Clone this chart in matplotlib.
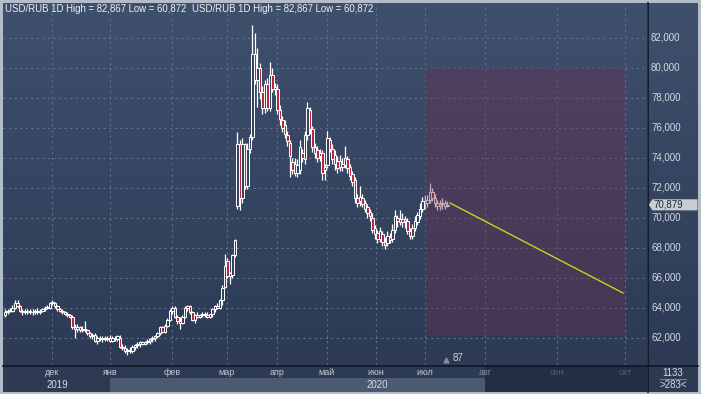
import matplotlib
matplotlib.use('Agg')
import matplotlib.pyplot as plt
import numpy as np
from matplotlib.patches import Rectangle, Polygon
from matplotlib.lines import Line2D

# ---------------- data (USD/RUB daily candles) ----------------
opens = [63.5, 63.7, 63.8, 63.8, 64.0, 64.3, 64.1, 63.8, 63.7, 63.7,
         63.8, 63.7, 63.7, 63.8, 63.7, 63.8, 63.9, 64.0, 64.0, 64.4,
         64.3, 64.1, 63.9, 63.8, 63.7, 63.6, 63.5, 63.4, 62.7, 62.6,
         62.7, 62.5, 62.6, 62.5, 62.3, 62.1, 62.2, 61.8, 62.0, 61.9,
         62.0, 61.9, 62.0,
         61.8, 62.0, 61.9, 62.0, 61.4, 61.3, 61.1, 61.2, 61.1, 61.4,
         61.5, 61.6, 61.7, 61.6, 61.7, 61.8, 61.9, 62.0, 62.1, 62.3,
         62.7, 62.4, 62.8, 63.2, 63.8,
         64.0, 63.4, 63.1, 63.0, 63.4, 64.0, 64.1, 63.7, 63.2, 63.5,
         63.4, 63.5, 63.6, 63.5, 63.4, 63.6, 63.9, 64.1, 64.0, 64.5,
         65.4, 67.1, 66.1, 66.2, 67.5,
         70.8, 74.9, 71.3, 74.9, 72.1, 74.6, 75.4, 80.9, 79.2, 80.0,
         78.4, 77.3, 78.9, 77.3, 79.5, 78.6,
         78.6, 77.2, 76.5, 76.2, 75.5, 75.0, 73.7, 73.6, 73.0, 73.2,
         74.3, 73.9, 75.5, 77.2, 75.9, 74.7, 74.5, 74.3, 74.3, 73.2,
         73.5, 75.2, 74.6, 74.2, 73.8, 73.4, 73.6, 73.5, 73.9, 73.4,
         72.9, 72.5, 71.3, 71.1, 71.3, 71.0, 70.7, 70.4, 70.0, 69.3,
         69.0, 68.6, 68.9, 68.4, 68.3, 68.7, 68.6, 69.2, 70.0, 69.7,
         69.9, 69.8, 69.8, 69.1, 68.8, 69.3, 69.7, 70.1, 70.6, 71.1,
         71.0, 71.2, 71.7, 71.3, 71.0, 70.8, 70.9, 71.0, 70.8]
highs = [63.9, 63.9, 64.0, 64.2, 64.5, 64.5, 64.2, 63.9, 63.9, 63.9,
         63.9, 63.9, 63.9, 64.0, 63.9, 64.0, 64.1, 64.2, 64.4, 64.5,
         64.4, 64.2, 64.0, 63.9, 63.8, 63.7, 63.6, 63.5, 62.9, 62.9,
         62.8, 62.8, 63.1, 62.6, 62.4, 62.3, 62.3, 62.1, 62.1, 62.1,
         62.1, 62.1, 62.2,
         62.1, 62.1, 62.2, 62.2, 61.6, 61.5, 61.3, 61.4, 61.5, 61.6,
         61.7, 61.8, 61.8, 61.8, 61.9, 62.0, 62.1, 62.2, 62.4, 62.8,
         62.8, 62.9, 63.3, 63.9, 64.1,
         64.1, 63.5, 63.4, 63.5, 64.1, 64.2, 64.2, 63.8, 63.6, 63.7,
         63.6, 63.7, 63.7, 63.7, 63.6, 64.0, 64.2, 64.3, 64.6, 65.5,
         67.6, 67.3, 66.4, 67.6, 68.6,
         75.7, 75.2, 75.3, 75.0, 75.0, 75.6, 82.867, 82.3, 81.3, 80.3,
         78.8, 79.2, 79.3, 80.4, 80.0, 79.0,
         78.9, 77.5, 76.8, 76.5, 75.8, 75.2, 74.0, 74.0, 73.9, 75.2,
         74.6, 75.8, 77.7, 77.4, 76.1, 75.0, 74.8, 74.6, 74.5, 73.6,
         75.8, 75.4, 74.9, 74.5, 74.1, 74.2, 74.0, 74.8, 74.1, 73.6,
         73.1, 72.7, 71.6, 72.1, 71.6, 71.2, 70.9, 70.6, 70.3, 69.5,
         69.2, 69.4, 69.1, 68.7, 69.1, 69.0, 69.6, 70.5, 70.2, 70.5,
         70.3, 70.1, 70.0, 69.3, 69.6, 70.1, 70.4, 71.0, 71.4, 71.5,
         71.5, 72.3, 72.0, 71.6, 71.2, 71.2, 71.3, 71.2, 71.1]
lows = [63.4, 63.6, 63.7, 63.7, 63.9, 64.0, 63.7, 63.5, 63.6, 63.6,
        63.6, 63.5, 63.6, 63.6, 63.6, 63.7, 63.8, 63.9, 63.9, 64.2,
        64.0, 63.8, 63.7, 63.6, 63.5, 63.4, 63.3, 62.6, 62.0, 62.4,
        62.4, 62.4, 62.4, 62.2, 62.0, 61.9, 61.7, 61.6, 61.8, 61.7,
        61.8, 61.8, 61.7,
        61.7, 61.8, 61.8, 61.3, 61.2, 61.0, 60.872, 61.0, 61.0, 61.2,
        61.3, 61.4, 61.5, 61.5, 61.6, 61.6, 61.7, 61.8, 62.0, 62.2,
        62.3, 62.3, 62.7, 63.1, 63.6,
        63.3, 62.9, 62.6, 62.9, 63.3, 63.8, 63.6, 63.1, 63.0, 63.3,
        63.3, 63.4, 63.4, 63.3, 63.3, 63.4, 63.7, 63.9, 63.9, 64.2,
        65.3, 66.0, 65.6, 66.0, 67.4,
        70.6, 70.5, 71.0, 71.9, 71.9, 74.3, 75.2, 78.9, 77.4, 77.9,
        76.9, 77.0, 77.1, 77.1, 78.4, 78.2,
        76.9, 76.2, 75.7, 75.3, 74.8, 72.7, 72.9, 72.8, 72.7, 72.9,
        73.7, 73.6, 75.2, 75.6, 74.4, 74.0, 73.7, 73.8, 72.5, 72.5,
        73.3, 74.4, 73.6, 73.2, 73.0, 73.1, 73.1, 73.3, 73.0, 72.5,
        72.1, 71.0, 70.7, 70.8, 70.7, 70.4, 70.0, 69.8, 69.0, 68.6,
        68.3, 68.4, 68.1, 67.9, 68.1, 68.3, 68.4, 69.0, 69.4, 69.5,
        69.4, 69.3, 68.9, 68.6, 68.6, 69.1, 69.5, 69.9, 70.4, 70.6,
        70.7, 71.0, 71.1, 70.7, 70.5, 70.5, 70.6, 70.6, 70.7]
closes = [63.7, 63.8, 63.8, 64.0, 64.3, 64.1, 63.8, 63.7, 63.7, 63.8,
          63.7, 63.7, 63.8, 63.7, 63.8, 63.9, 64.0, 64.0, 64.3, 64.3,
          64.1, 63.9, 63.8, 63.7, 63.6, 63.5, 63.4, 62.7, 62.6, 62.7,
          62.5, 62.6, 62.5, 62.3, 62.1, 62.2, 61.8, 62.0, 61.9, 62.0,
          61.9, 62.0, 61.8,
          62.0, 61.9, 62.1, 61.4, 61.3, 61.1, 61.2, 61.1, 61.4, 61.5,
          61.6, 61.7, 61.6, 61.7, 61.8, 61.9, 62.0, 62.1, 62.3, 62.7,
          62.4, 62.8, 63.2, 63.8, 64.0,
          63.4, 63.1, 63.0, 63.4, 64.0, 64.1, 63.7, 63.2, 63.5, 63.4,
          63.5, 63.6, 63.5, 63.4, 63.6, 63.9, 64.1, 64.0, 64.5, 65.3,
          66.8, 66.1, 66.3, 67.5, 68.5,
          74.9, 71.3, 74.9, 72.1, 74.6, 75.4, 80.9, 79.2, 80.0, 78.4,
          77.3, 78.9, 77.3, 79.5, 78.6, 78.7,
          77.2, 76.6, 76.0, 75.6, 75.1, 74.1, 73.2, 73.0, 73.5, 74.7,
          74.0, 75.5, 77.3, 75.9, 74.7, 74.3, 74.0, 74.1, 73.0, 73.4,
          75.3, 74.6, 73.9, 73.6, 73.3, 73.8, 73.4, 74.0, 73.3, 72.8,
          72.4, 71.3, 71.0, 71.4, 70.9, 70.6, 70.3, 70.1, 69.2, 68.9,
          68.6, 69.1, 68.4, 68.2, 68.8, 68.5, 69.2, 70.1, 69.8, 69.9,
          69.7, 69.9, 69.1, 68.8, 69.3, 69.8, 70.2, 70.6, 71.1, 71.0,
          71.2, 71.7, 71.3, 71.0, 70.8, 70.9, 71.0, 70.8, 70.879]

last_price = 70.879
month_labels = ['дек', 'янв', 'фев', 'мар', 'апр', 'май', 'июн', 'июл', 'авг', 'сен', 'окт']
month_pos = [18.8, 42, 66.8, 88.8, 108.8, 128.8, 148.4, 168, 192, 220.8, 248]
year_labels = ['2019', '2020']
year_pos = [20.8, 148.8]
y_ticks = list(range(62, 83, 2))
zone_x = (168, 248)
zone_y = (62.13, 80.0)
trend_x = [178, 247.2]
trend_y = [71.0, 65.0]
title = 'USD/RUB 1D High = 82,867 Low = 60,872'

# ---------------- layout ----------------
W, H = 701, 394
fig = plt.figure(figsize=(7.01, 3.94), dpi=100)
fig.patch.set_facecolor('#b3bdc9')

def fa(x0, y0, x1, y1):
    return [x0 / W, 1 - y1 / H, (x1 - x0) / W, (y1 - y0) / H]

XLIM = (-0.8, 256.8)
YLIM = (60.2, 84.333)
top_c = np.array([63, 80, 109]) / 255
bot_c = np.array([44, 58, 84]) / 255
grad = np.linspace(0, 1, 256)[:, None, None] * (bot_c - top_c) + top_c

ax = fig.add_axes(fa(3, 3, 647, 365))
ax.set_xlim(*XLIM); ax.set_ylim(*YLIM)
ax.imshow(grad, extent=[XLIM[0], XLIM[1], YLIM[0], YLIM[1]], aspect='auto', zorder=0)
ax.set_axis_off()

grid_c = '#5f6f8c'
ax.hlines(y_ticks, XLIM[0], XLIM[1], colors=grid_c, linestyles=(0, (2, 3)), lw=0.8, zorder=1)
ax.vlines(month_pos, YLIM[0], YLIM[1], colors=grid_c, linestyles=(0, (2, 3)), lw=0.8, zorder=1)

o = np.array(opens); h = np.array(highs); l = np.array(lows); c = np.array(closes)
idx = np.arange(len(c))
up = c >= o
ax.vlines(idx, l, h, colors='white', lw=0.9, zorder=2)
body_fc = np.where(up, '#34445f', '#b8283f')
heights = np.maximum(np.abs(c - o), 0.04)
ax.bar(idx, heights, bottom=np.minimum(o, c), width=0.9, color=body_fc,
       edgecolor='white', linewidth=0.7, zorder=2.5)

ax.add_patch(Rectangle((zone_x[0], zone_y[0]), zone_x[1] - zone_x[0], zone_y[1] - zone_y[0],
                       facecolor='#6a3050', alpha=0.38, edgecolor='none', zorder=3))
ax.plot(trend_x, trend_y, color='#d6cc1a', lw=1.0, zorder=4)

ax.plot([176.4], [60.55], marker='^', ms=3.5, color='#7d8ca6', zorder=4, clip_on=False)
ax.text(179.2, 60.65, '87', fontsize=7, color='#c8d0dc', va='center', ha='left',
        family='Liberation Sans', zorder=5)

# right price panel
ax_r = fig.add_axes(fa(648, 3, 698, 365))
ax_r.set_xlim(0, 50); ax_r.set_ylim(*YLIM)
ax_r.imshow(grad, extent=[0, 50, YLIM[0], YLIM[1]], aspect='auto', zorder=0)
ax_r.set_axis_off()
for v in y_ticks:
    ax_r.text(3, v, f'{v},000', fontsize=7, color='#d3d9e2', va='center', ha='left',
              family='Liberation Sans')
hh = 0.37
ax_r.add_patch(Polygon([(0.8, last_price), (4.5, last_price + hh), (49.5, last_price + hh),
                        (49.5, last_price - hh), (4.5, last_price - hh)],
                       closed=True, facecolor='#c9ced6', edgecolor='none', zorder=3))
ax_r.text(5, last_price, f'{last_price:.3f}'.replace('.', ','), fontsize=7, color='#1e2632',
          va='center', ha='left', family='Liberation Sans', zorder=4)

# bottom time band
ax_b = fig.add_axes(fa(3, 365, 647, 392))
ax_b.set_xlim(*XLIM); ax_b.set_ylim(27, 0)
ax_b.set_axis_off()
ax_b.add_patch(Rectangle((XLIM[0], 0), XLIM[1] - XLIM[0], 27, facecolor='#2d3a52', edgecolor='none'))
ax_b.add_patch(Rectangle((42, 13), 150, 14, facecolor='#4a5a73', edgecolor='none'))
ax_b.add_patch(Rectangle((192, 0), XLIM[1] - 192, 27, facecolor='#232e42', edgecolor='none'))
for lab, p in zip(month_labels, month_pos):
    col = '#c3cbd7' if p < 190 else ('#7d8a9e' if p < 200 else '#4e5d75')
    ax_b.text(p, 7.5, lab, fontsize=6.5, color=col, ha='center', va='center',
              family='Liberation Sans')
for lab, p in zip(year_labels, year_pos):
    ax_b.text(p, 19.5, lab, fontsize=7, color='#d6dce5', ha='center', va='center',
              family='Liberation Sans')

# bottom-right box
ax_c = fig.add_axes(fa(648, 365, 698, 392))
ax_c.set_xlim(0, 50); ax_c.set_ylim(27, 0)
ax_c.set_axis_off()
ax_c.add_patch(Rectangle((0, 0), 50, 27, facecolor='#2d3a52', edgecolor='none'))
ax_c.text(25, 7.5, '1133', fontsize=7, color='#d6dce5', ha='center', va='center',
          family='Liberation Sans')
ax_c.plot([12, 38], [13.5, 13.5], color='#8a96a8', lw=0.6)
ax_c.text(25, 20.5, '>283<', fontsize=7, color='#d6dce5', ha='center', va='center',
          family='Liberation Sans')

# separators
sep = '#0e1621'
fig.add_artist(Line2D([647.5 / W, 647.5 / W], [1 - 392 / H, 1 - 3 / H], color=sep, lw=1.2))
fig.add_artist(Line2D([3 / W, 698 / W], [1 - 365.5 / H, 1 - 365.5 / H], color=sep, lw=1.2))

# titles
for tx in (5, 192):
    fig.text(tx / W, 1 - 9.5 / H, title, fontsize=6.9, color='#eef1f5', va='center', ha='left',
             family='Liberation Sans')

fig.savefig('out.png', dpi=100, facecolor=fig.get_facecolor())
